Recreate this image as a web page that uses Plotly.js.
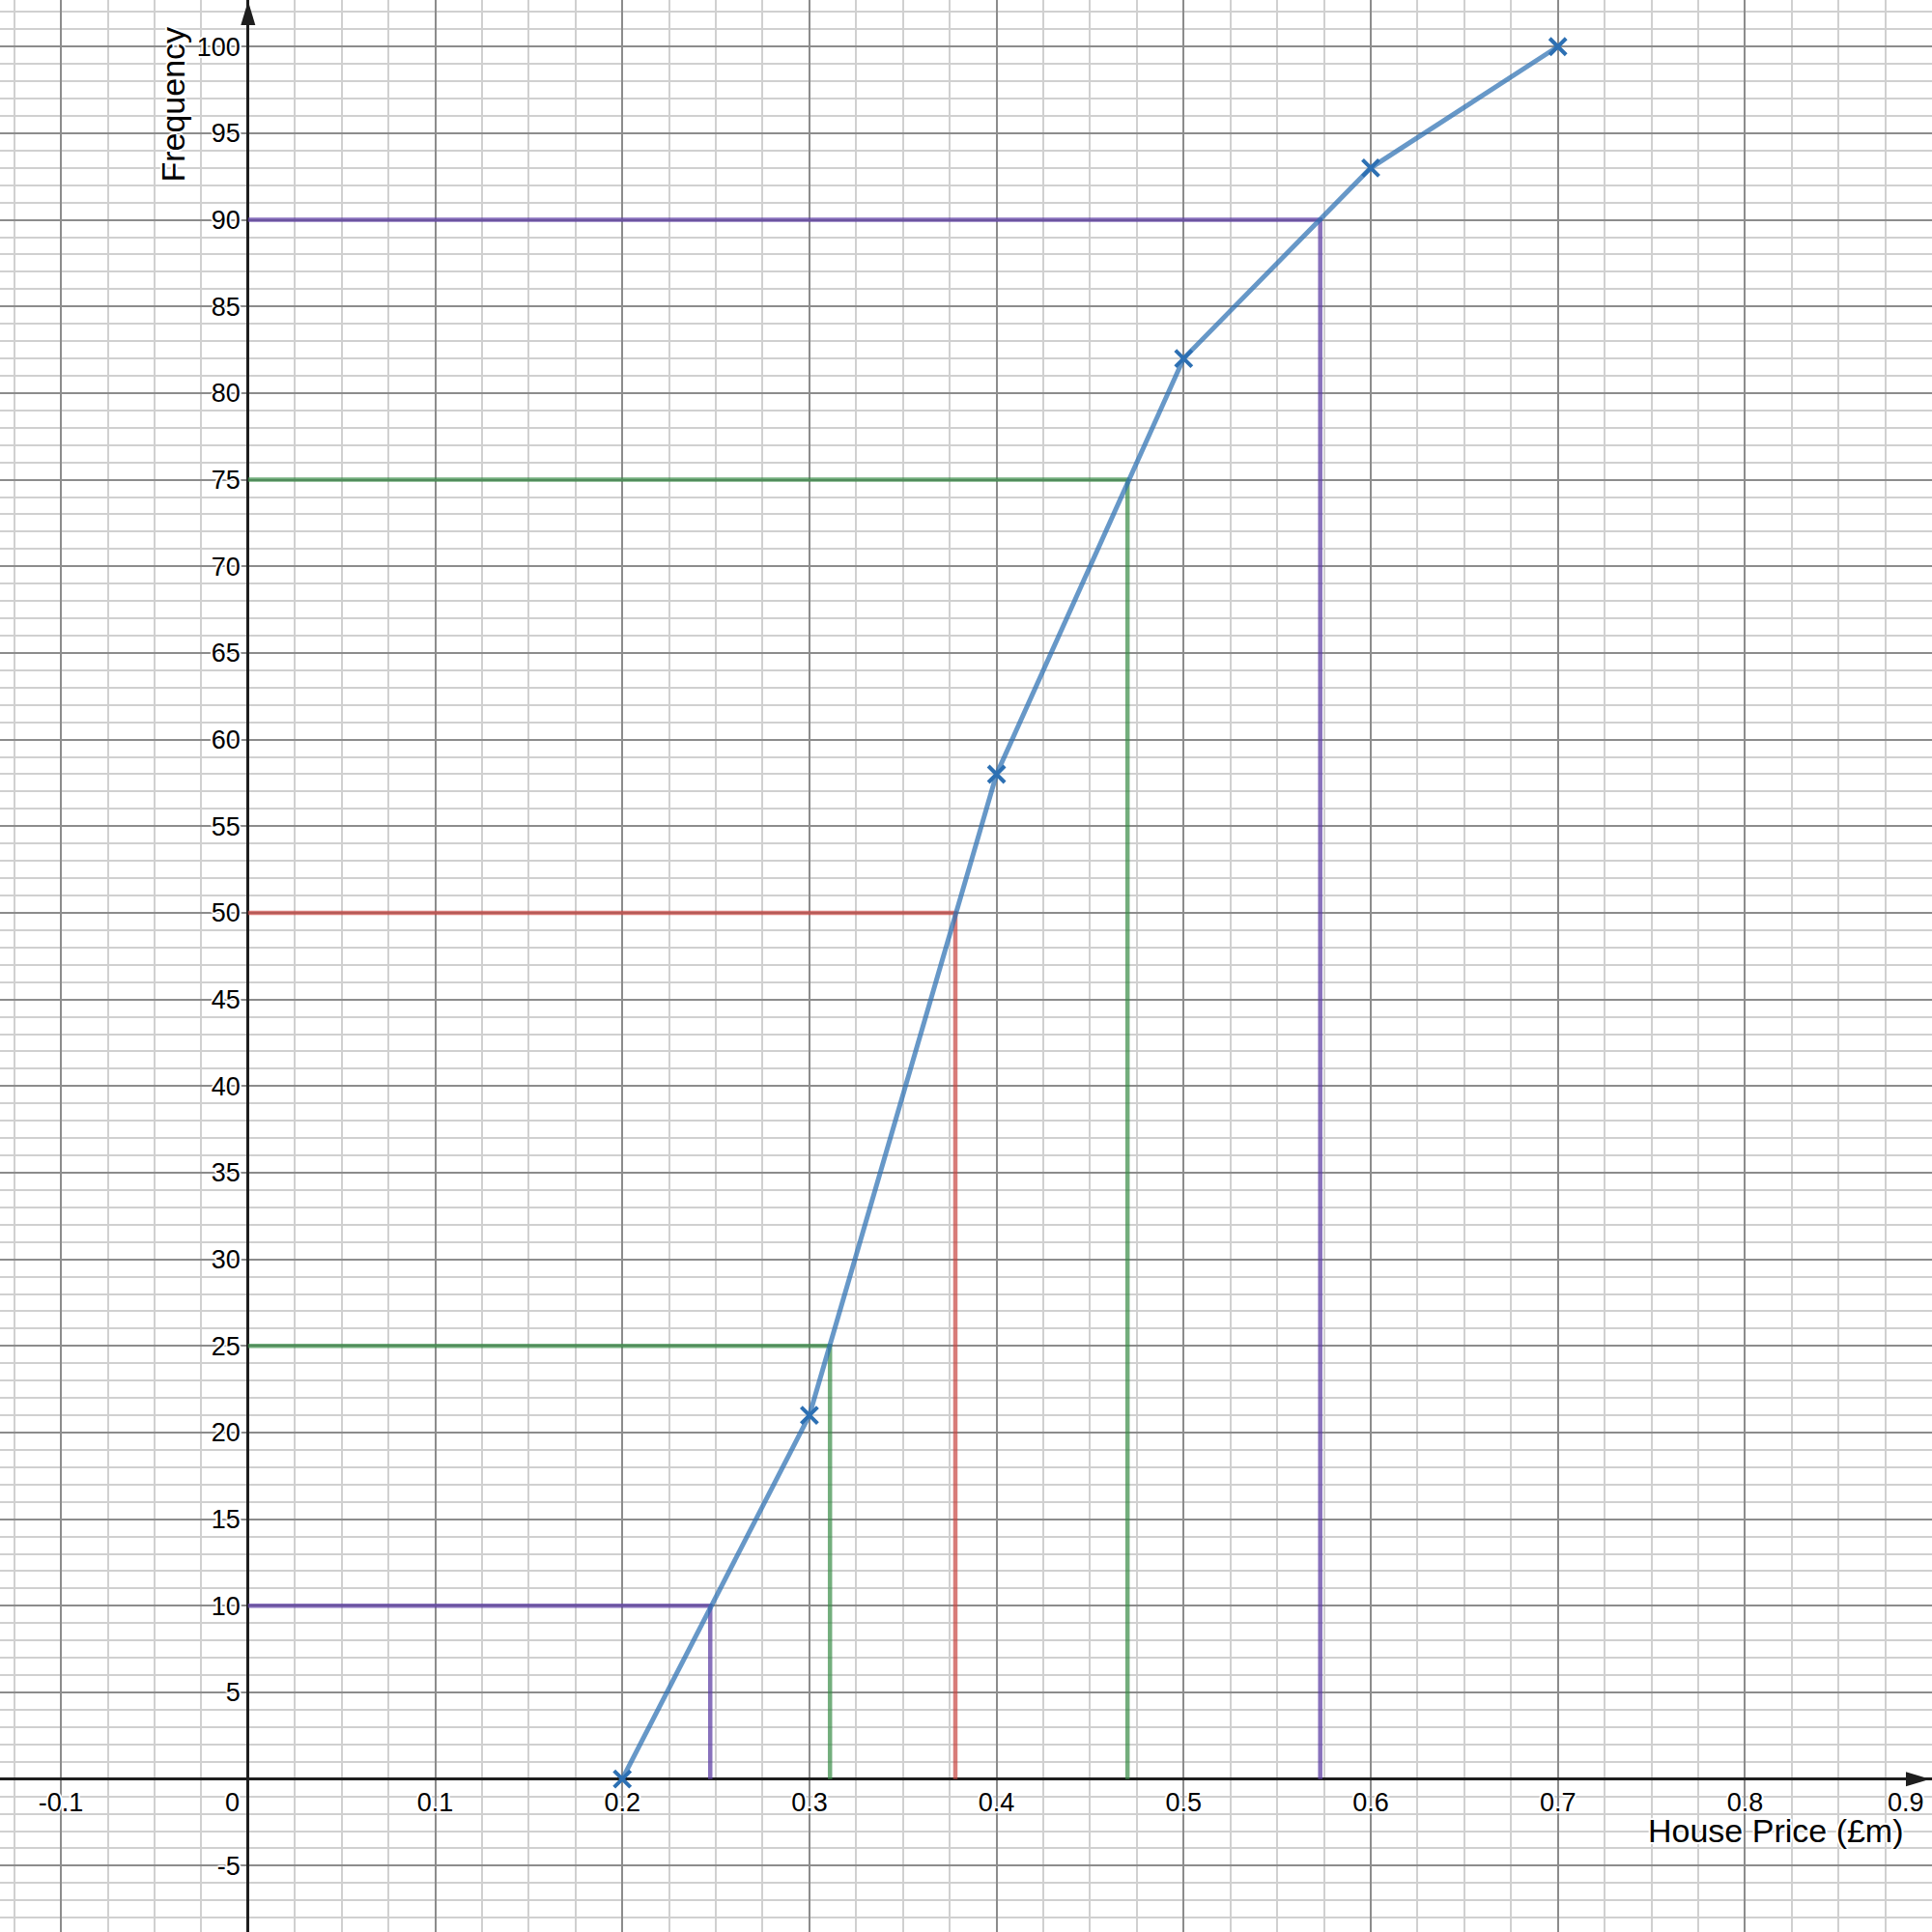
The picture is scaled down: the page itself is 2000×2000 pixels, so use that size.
<!DOCTYPE html>
<html>
<head>
<meta charset="utf-8">
<script src="https://cdn.plot.ly/plotly-3.0.1.min.js"></script>
<style>html,body{margin:0;padding:0;background:#fff;}#chart{width:2000px;height:2000px;}</style>
</head>
<body>
<div id="chart"></div>
<script>
// Cumulative frequency data
const housePrice = [0.2, 0.3, 0.4, 0.5, 0.6, 0.7];
const cumFrequency = [0, 21, 58, 82, 93, 100];

// Read-off lines: frequency level and matching house price
const readFrequency = [10, 25, 50, 75, 90];
const readPrice = [0.247, 0.311, 0.378, 0.470, 0.573];

// Tick labels
const xTickVals = [-0.1, 0, 0.1, 0.2, 0.3, 0.4, 0.5, 0.6, 0.7, 0.8];
const xTickText = ['-0.1', '', '0.1', '0.2', '0.3', '0.4', '0.5', '0.6', '0.7', '0.8'];
const yTickVals = [-5, 0, 5, 10, 15, 20, 25, 30, 35, 40, 45, 50, 55, 60, 65, 70, 75, 80, 85, 90, 95, 100];
const yTickText = ['-5', '', '5', '10', '15', '20', '25', '30', '35', '40', '45', '50', '55', '60', '65', '70', '75', '80', '85', '90', '95', '100'];
const originLabel = '0';
const edgeXLabel = '0.9';
const xTitle = 'House Price (£m)';
const yTitle = 'Frequency';

// Styles
const readColors = ['rgba(96,66,166,0.75)', 'rgba(56,140,70,0.7)', 'rgba(199,68,64,0.7)', 'rgba(56,140,70,0.7)', 'rgba(96,66,166,0.75)'];
const FONT = 'Liberation Sans, Arial, sans-serif';
const HALO = '2px 0 1px #fff, -2px 0 1px #fff, 0 2px 1px #fff, 0 -2px 1px #fff, 1px 1px 1px #fff, -1px -1px 1px #fff, 1px -1px 1px #fff, -1px 1px 1px #fff';

// map Plotly's default tick text to the wanted label text
function buildAlias(vals, texts) {
  const alias = {};
  vals.forEach((v, i) => {
    const def = (v < 0 ? '\u2212' : '') + String(Math.abs(v));
    alias[def] = texts[i] === '' ? ' ' : texts[i];
  });
  return alias;
}

const traces = [];
for (let i = 0; i < readFrequency.length; i++) {
  traces.push({
    type: 'scatter', mode: 'lines',
    x: [0, readPrice[i], readPrice[i]],
    y: [readFrequency[i], readFrequency[i], 0],
    line: {color: readColors[i], width: 4.5},
    hoverinfo: 'skip', showlegend: false, cliponaxis: false
  });
}
traces.push({
  type: 'scatter', mode: 'lines+markers',
  x: housePrice, y: cumFrequency,
  line: {color: 'rgba(45,112,179,0.72)', width: 5},
  marker: {symbol: 'x-thin', size: 17, color: '#2d70b3', line: {color: '#2d70b3', width: 4}},
  showlegend: false, cliponaxis: false
});

const tickFont = {family: FONT, size: 27, color: '#000', shadow: HALO};

const layout = {
  width: 2000, height: 2000,
  margin: {l: 0, r: 0, t: 0, b: 0, pad: 0},
  paper_bgcolor: '#fff', plot_bgcolor: '#fff',
  showlegend: false,
  xaxis: {
    range: [-0.13258, 0.89995],
    anchor: 'free', position: 0.0792,
    tickmode: 'linear', tick0: 0, dtick: 0.1,
    labelalias: buildAlias(xTickVals, xTickText),
    ticks: '', tickfont: tickFont, ticklabelstandoff: 5,
    showgrid: true, gridcolor: '#8c8c8c', gridwidth: 2,
    minor: {tickmode: 'linear', tick0: 0, dtick: 0.025, showgrid: true, gridcolor: '#d0d0d0', gridwidth: 2, ticks: ''},
    zeroline: true, zerolinecolor: '#1e1e1e', zerolinewidth: 3,
    showline: false, fixedrange: true
  },
  yaxis: {
    range: [-8.827, 102.69],
    anchor: 'free', position: 0.1284, side: 'left',
    tickmode: 'linear', tick0: 0, dtick: 5,
    labelalias: buildAlias(yTickVals, yTickText),
    ticks: '', tickfont: tickFont, ticklabelstandoff: 8,
    showgrid: true, gridcolor: '#8c8c8c', gridwidth: 2,
    minor: {tickmode: 'linear', tick0: 0, dtick: 1, showgrid: true, gridcolor: '#d0d0d0', gridwidth: 2, ticks: ''},
    zeroline: true, zerolinecolor: '#1e1e1e', zerolinewidth: 3,
    showline: false, fixedrange: true
  },
  shapes: [
    {type: 'path', layer: 'above', xref: 'x', yref: 'paper', xsizemode: 'pixel', ysizemode: 'pixel',
     xanchor: 0, yanchor: 1, path: 'M -7.5 -26 L 7.5 -26 L 0 -1 Z', fillcolor: '#1e1e1e', line: {width: 0}},
    {type: 'path', layer: 'above', xref: 'paper', yref: 'y', xsizemode: 'pixel', ysizemode: 'pixel',
     xanchor: 1, yanchor: 0, path: 'M -27 -7.5 L -27 7.5 L -2 0 Z', fillcolor: '#1e1e1e', line: {width: 0}}
  ],
  annotations: [
    {xref: 'x', yref: 'y', x: 0, y: 0, text: originLabel, showarrow: false,
     xanchor: 'right', yanchor: 'top', xshift: -7, yshift: -7, font: tickFont},
    {xref: 'paper', yref: 'y', x: 1, y: 0, text: edgeXLabel, showarrow: false,
     xanchor: 'right', yanchor: 'top', xshift: -6, yshift: -7, font: tickFont},
    {xref: 'paper', yref: 'paper', x: 0.0893, y: 1 - 108 / 2000, text: yTitle, showarrow: false,
     textangle: -90, xanchor: 'center', yanchor: 'middle', font: {family: FONT, size: 34, color: '#000', shadow: HALO}},
    {xref: 'paper', yref: 'paper', x: 1838 / 2000, y: 1 - 1895 / 2000, text: xTitle, showarrow: false,
     xanchor: 'center', yanchor: 'middle', font: {family: FONT, size: 34, color: '#000', shadow: HALO}}
  ]
};

Plotly.newPlot('chart', traces, layout, {staticPlot: true, displayModeBar: false});
</script>
</body>
</html>
